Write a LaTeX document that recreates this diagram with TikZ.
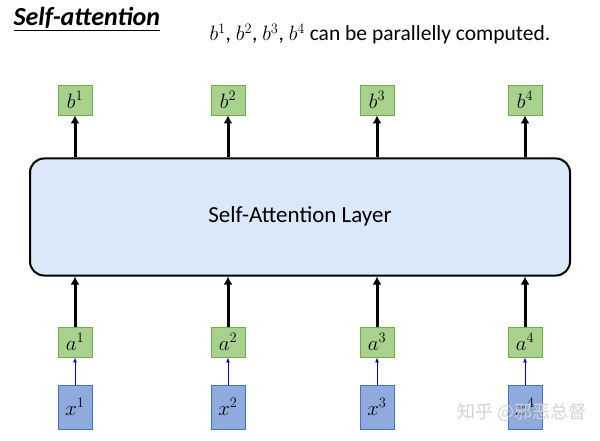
\documentclass[tikz,border=0pt]{standalone}
\usetikzlibrary{arrows.meta}
\usepackage{fontspec}
\setmainfont{Carlito}
\newfontfamily\cjk{Noto Sans CJK SC}
\definecolor{gfill}{RGB}{169,209,142}
\definecolor{gdraw}{RGB}{112,173,71}
\definecolor{xfill}{RGB}{143,170,220}
\definecolor{xdraw}{RGB}{68,114,196}
\definecolor{salfill}{RGB}{218,232,250}
\begin{document}
\begin{tikzpicture}[x=1pt,y=1pt,
  gbox/.style={draw=gdraw,fill=gfill,line width=0.8pt,minimum width=34pt,minimum height=30pt,inner sep=0pt,font=\fontsize{21}{21}\selectfont},
  xbox/.style={draw=xdraw,fill=xfill,line width=0.8pt,minimum width=34pt,minimum height=44pt,inner sep=0pt,font=\fontsize{21}{21}\selectfont},
  bigarr/.style={-{Latex[length=8pt,width=9pt]},line width=3pt},
  smallarr/.style={-{Latex[length=5pt,width=4pt]},line width=1pt,blue!80!black}]
\useasboundingbox (0,0) rectangle (600,440);
\node[anchor=west,font=\fontsize{26}{26}\selectfont\bfseries\itshape] (title) at (10,421) {\underline{Self-attention}};
\node[anchor=west,font=\fontsize{21.5}{21.5}\selectfont] (note) at (206,406) {$b^1$, $b^2$, $b^3$, $b^4$ can be parallelly computed.};
\node[draw=black,line width=2pt,rounded corners=14pt,fill=salfill,minimum width=540pt,minimum height=117pt] (sal) at (300,223) {};
\node[font=\fontsize{23}{23}\selectfont] (salt) at (300,224) {Self-Attention Layer};
\foreach \i/\xx in {1/75,2/228,3/377,4/525}{
  \node[gbox] (b\i) at (\xx,340) {$b^{\i}$};
  \node[gbox] (a\i) at (\xx,98) {$a^{\i}$};
  \node[xbox] (x\i) at (\xx,33) {$x^{\i}$};
  \draw[bigarr] (sal.north -| b\i) -- (b\i.south);
  \draw[bigarr] (a\i.north) -- (sal.south -| a\i);
  \draw[smallarr] (x\i.north) -- (a\i.south);
}
\node[anchor=east,font=\cjk\fontsize{18}{18}\selectfont,text=gray!35] (wm) at (590,28) {知乎 @邪恶总督};
\end{tikzpicture}
\end{document}
